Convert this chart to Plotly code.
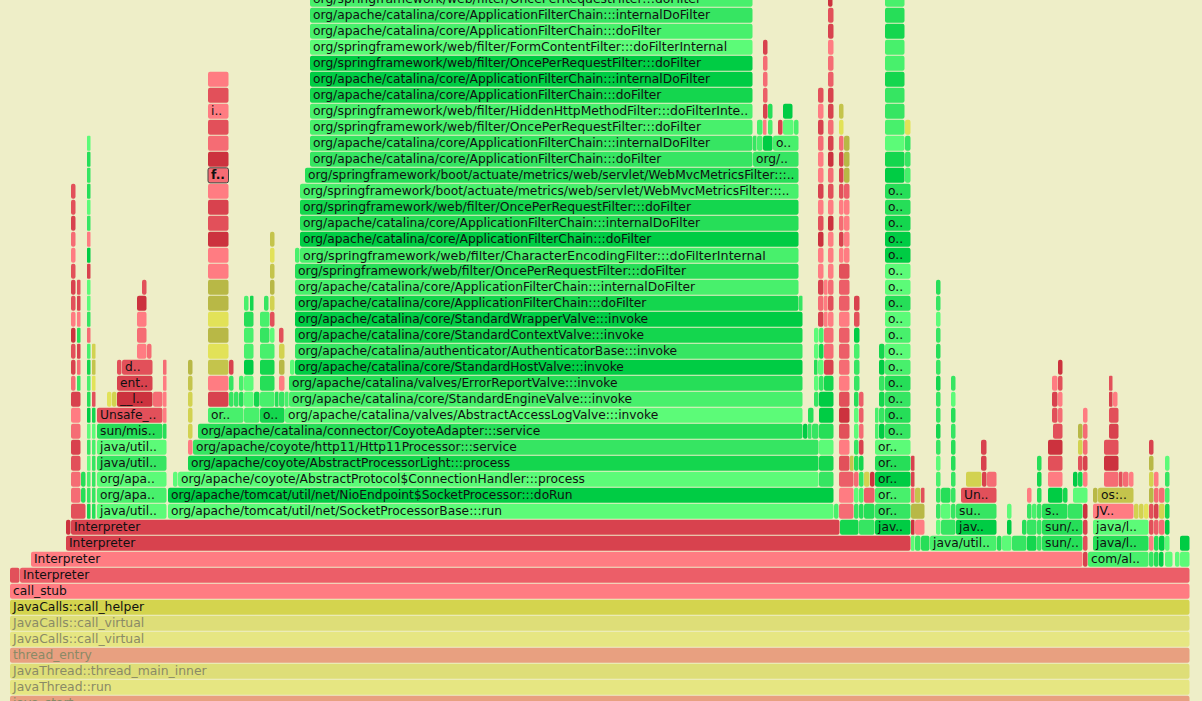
import plotly.graph_objects as go

# flame graph, one entry per stack depth, x in samples (1 sample ~ 1 px wide)
frame_start = [
    [10], [10], [10], [10], [10], [10], [10], [10],
    [10, 20],
    [31, 1083, 1088, 1149, 1154, 1159, 1165, 1175, 1180],
    [66, 911, 915, 921, 930, 997, 1002, 1012, 1027, 1037, 1042, 1083, 1093, 1149, 1154, 1159, 1165, 1180],
    [66, 71, 840, 859, 875, 911, 915, 936, 941, 956, 1007, 1022, 1027, 1037, 1042, 1083, 1093, 1149, 1154, 1159, 1165],
    [71, 87, 92, 97, 168, 834, 839, 854, 859, 864, 875, 911, 936, 941, 951, 956, 1007, 1027, 1032, 1037, 1042, 1068, 1083, 1093, 1134, 1139, 1144, 1149, 1154, 1159, 1165],
    [71, 81, 87, 92, 97, 168, 839, 854, 859, 864, 875, 911, 915, 921, 936, 941, 951, 961, 1027, 1037, 1048, 1063, 1073, 1093, 1098, 1149, 1154, 1159, 1165],
    [71, 81, 87, 92, 97, 173, 178, 819, 839, 854, 859, 864, 870, 875, 911, 936, 951, 966, 982, 987, 1037, 1048, 1073, 1078, 1083, 1104, 1119, 1123, 1129, 1149, 1154, 1165],
    [71, 87, 92, 97, 188, 819, 839, 850, 854, 859, 875, 911, 936, 951, 981, 1037, 1048, 1078, 1083, 1104, 1149, 1165],
    [71, 87, 92, 97, 188, 193, 819, 839, 854, 859, 875, 936, 951, 981, 1048, 1078, 1083, 1104, 1149],
    [71, 87, 92, 97, 163, 188, 198, 803, 808, 812, 819, 839, 854, 859, 875, 879, 885, 936, 951, 1053, 1078, 1083, 1109],
    [71, 87, 92, 97, 163, 188, 208, 244, 260, 285, 808, 819, 839, 854, 859, 875, 879, 885, 936, 951, 1052, 1058, 1083, 1109],
    [71, 87, 92, 107, 112, 117, 153, 163, 188, 208, 229, 234, 239, 244, 254, 260, 275, 279, 285, 289, 814, 819, 839, 854, 859, 879, 885, 936, 951, 1052, 1058, 1109, 1113],
    [71, 77, 87, 92, 117, 163, 188, 208, 229, 239, 244, 260, 279, 289, 814, 819, 824, 839, 854, 879, 885, 936, 951, 1052, 1058, 1109],
    [71, 77, 87, 92, 117, 122, 163, 188, 208, 229, 244, 260, 279, 290, 295, 814, 818, 824, 839, 854, 879, 885, 936, 1058],
    [71, 77, 87, 92, 137, 147, 208, 244, 260, 279, 295, 814, 819, 824, 839, 854, 879, 885, 936],
    [71, 77, 87, 137, 208, 244, 260, 270, 279, 295, 814, 819, 824, 839, 854, 885, 936],
    [71, 77, 87, 137, 208, 244, 260, 270, 295, 818, 824, 828, 839, 854, 885, 936],
    [71, 77, 87, 137, 208, 244, 250, 264, 270, 295, 799, 818, 824, 828, 839, 854, 885, 936],
    [71, 77, 87, 142, 208, 270, 295, 818, 824, 828, 839, 885, 936],
    [71, 87, 208, 270, 295, 818, 828, 839, 885],
    [71, 87, 208, 270, 295, 300, 818, 828, 839, 844, 885],
    [71, 87, 208, 270, 300, 818, 828, 839, 844, 885],
    [71, 87, 208, 300, 818, 828, 839, 844, 885],
    [71, 87, 208, 300, 818, 828, 839, 844, 885],
    [71, 87, 208, 300, 818, 828, 839, 844, 885],
    [87, 208, 305, 818, 828, 839, 844, 885, 905],
    [87, 208, 310, 753, 818, 828, 839, 844, 885, 905],
    [87, 208, 310, 753, 757, 763, 773, 818, 828, 839, 844, 885, 905],
    [208, 310, 757, 763, 768, 778, 783, 794, 818, 828, 839, 885, 905],
    [208, 310, 763, 768, 783, 818, 828, 839, 885],
    [208, 310, 763, 818, 828, 885],
    [208, 310, 763, 828, 885],
    [310, 763, 828, 885],
    [310, 763, 828, 885],
    [310, 828, 885],
    [310, 828, 885],
    [310, 828, 885],
]

frame_end = [
    [1190], [1190], [1190], [1190], [1190], [1190], [1190], [1190],
    [20, 1190],
    [1083, 1088, 1149, 1154, 1159, 1164, 1173, 1180, 1190],
    [911, 915, 921, 930, 997, 1002, 1012, 1027, 1037, 1042, 1083, 1088, 1149, 1154, 1159, 1165, 1170, 1190],
    [71, 840, 859, 875, 911, 915, 925, 941, 956, 997, 1012, 1027, 1037, 1042, 1083, 1088, 1149, 1154, 1159, 1165, 1170],
    [86, 91, 96, 167, 834, 839, 854, 859, 864, 875, 911, 925, 941, 951, 956, 997, 1012, 1032, 1037, 1042, 1068, 1083, 1088, 1134, 1139, 1144, 1149, 1154, 1159, 1165, 1170],
    [81, 86, 91, 96, 167, 834, 854, 859, 864, 875, 911, 915, 921, 925, 941, 951, 956, 997, 1032, 1042, 1063, 1068, 1088, 1098, 1134, 1154, 1159, 1165, 1170],
    [81, 86, 91, 96, 167, 178, 819, 834, 854, 859, 864, 870, 875, 911, 915, 941, 956, 982, 987, 997, 1042, 1063, 1078, 1083, 1088, 1119, 1123, 1129, 1134, 1154, 1159, 1170],
    [81, 91, 96, 167, 819, 834, 850, 854, 859, 864, 911, 915, 941, 956, 987, 1042, 1063, 1083, 1088, 1119, 1154, 1170],
    [81, 91, 96, 167, 193, 819, 834, 850, 859, 864, 911, 941, 956, 987, 1063, 1083, 1088, 1119, 1154],
    [81, 91, 96, 163, 167, 193, 803, 808, 812, 819, 834, 850, 859, 864, 879, 885, 911, 941, 956, 1063, 1083, 1088, 1119],
    [81, 91, 96, 163, 167, 193, 244, 260, 285, 803, 814, 834, 850, 859, 864, 879, 885, 911, 941, 956, 1058, 1063, 1088, 1119],
    [81, 91, 96, 112, 117, 153, 163, 167, 193, 229, 234, 239, 244, 254, 260, 275, 279, 285, 289, 803, 819, 834, 850, 859, 864, 885, 911, 941, 956, 1058, 1063, 1113, 1118],
    [76, 81, 91, 96, 153, 167, 193, 229, 234, 244, 254, 275, 285, 803, 819, 824, 834, 850, 860, 885, 911, 941, 956, 1058, 1063, 1113],
    [76, 81, 91, 96, 122, 153, 167, 193, 229, 234, 254, 275, 285, 295, 803, 818, 824, 834, 850, 860, 885, 911, 941, 1063],
    [76, 81, 91, 96, 147, 152, 229, 254, 275, 285, 803, 819, 824, 834, 850, 860, 885, 911, 941],
    [76, 81, 91, 147, 229, 254, 270, 275, 284, 803, 819, 824, 834, 850, 860, 911, 941],
    [76, 81, 91, 147, 229, 254, 270, 275, 803, 824, 828, 834, 850, 860, 911, 941],
    [76, 81, 91, 147, 229, 249, 254, 269, 275, 799, 803, 824, 828, 834, 850, 860, 911, 941],
    [76, 81, 91, 147, 229, 275, 799, 824, 828, 834, 850, 911, 941],
    [76, 91, 229, 275, 799, 824, 834, 850, 911],
    [76, 91, 229, 275, 300, 799, 824, 834, 844, 850, 911],
    [76, 91, 229, 275, 799, 824, 834, 844, 850, 911],
    [76, 91, 229, 799, 824, 834, 844, 850, 911],
    [76, 91, 229, 799, 824, 834, 844, 850, 911],
    [76, 91, 229, 799, 824, 834, 844, 850, 911],
    [91, 229, 799, 824, 834, 844, 850, 905, 911],
    [91, 229, 753, 799, 824, 834, 844, 850, 905, 911],
    [91, 229, 753, 757, 763, 773, 799, 824, 834, 844, 850, 905, 911],
    [229, 753, 763, 767, 773, 783, 794, 799, 824, 834, 844, 905, 911],
    [229, 753, 768, 773, 793, 824, 834, 844, 905],
    [229, 753, 768, 824, 834, 905],
    [229, 753, 768, 834, 905],
    [753, 768, 834, 905],
    [753, 768, 834, 905],
    [753, 834, 905],
    [753, 834, 905],
    [753, 833, 905],
]

# one letter per frame, SHADES below says what each letter is
frame_shade = [
    "A", "D", "C", "A", "D", "C", "E", "s",
    "op",
    "snedcafff",
    "nfdcecfdbdcocscafa",
    "mnbdamsfdaacddcnfopqa",
    "obcffeqdccdtdfddfdedcdmsvvwonvb",
    "qcddeasfepequodcdoscabftutqqe",
    "qcedfffdpqdvmanedvnqbsabsqoqsvsd",
    "ofddbboucbcnfcncoonmtf",
    "ndefsdfsdnfdcnmvqon",
    "qffccvcaddcofqeadbdotqn",
    "sabosveebfcamfpedcdcoqso",
    "ncowvmqsvnddcfbecdeedaocpbddfnsns",
    "qdewnsusdefcscfdbsddcbdsoo",
    "nqbuooqtunabtfacfnqdaedm",
    "onevsqweevdfbqpebfc",
    "mcqqtedfobfeqpaed",
    "ssdswceoansssoff",
    "onfmtebdvbdqsopncd",
    "nofottensqpfc",
    "onsucssof",
    "sasweessssa",
    "qsmuamsnsa",
    "ndocomqsb",
    "ofnbssssc",
    "ocsenoopc",
    "dqcsqntae",
    "cmddsmntbd",
    "fqddeaeqnqtfd",
    "oeesenfenqwew",
    "sencasnud",
    "obpond",
    "saqpb",
    "aqqe",
    "fnse",
    "enb",
    "doc",
    "eme",
]

CATALINA = "org/apache/catalina/core/"
SPRING = "org/springframework/web/filter/"
CHAIN_DO = CATALINA + "ApplicationFilterChain:::doFilter"
CHAIN_INT = CATALINA + "ApplicationFilterChain:::internalDoFilter"
ONCE = SPRING + "OncePerRequestFilter:::doFilter"
METRICS = "org/springframework/boot/actuate/metrics/web/servlet/WebMvcMetricsFilter:::.."

label_row = [
    0, 1, 2, 3, 4, 5, 6, 7, 8, 9, 9,
    10, 10, 10, 10, 11, 11, 11, 11, 11,
    12, 12, 12, 12, 12, 12, 13, 13, 13, 13, 13,
    14, 14, 14, 15, 15, 15, 16, 16, 16,
    17, 17, 17, 18, 18, 18, 18, 18, 19, 19, 19, 20, 20, 20, 21, 21, 21,
    22, 22, 23, 23, 24, 24, 25, 25, 26, 26, 27, 27, 28, 28, 29, 29, 30, 30, 31, 31, 32, 32,
    33, 33, 34, 34, 35, 35, 36, 37, 37, 38, 39, 40, 41, 42, 43, 44,
]
label_start = [
    10, 10, 10, 10, 10, 10, 10, 10, 20, 31, 1088,
    66, 930, 1042, 1093, 71, 875, 956, 1042, 1093,
    97, 168, 875, 956, 1042, 1093, 97, 168, 875, 961, 1098,
    97, 178, 875, 97, 188, 875, 97, 193, 875,
    97, 198, 885, 97, 208, 260, 285, 885, 117, 289, 885, 117, 289, 885, 122, 295, 885,
    295, 885, 295, 885, 295, 885, 295, 885, 295, 885, 295, 885, 300, 885, 300, 885, 300, 885, 300, 885, 300, 885,
    208, 305, 310, 753, 310, 773, 310, 208, 310, 310, 310, 310, 310, 310, 310, 310,
]
label_text = [
    "java_start", "JavaThread::run", "JavaThread::thread_main_inner", "thread_entry",
    "JavaCalls::call_virtual", "JavaCalls::call_virtual", "JavaCalls::call_helper", "call_stub",
    "Interpreter", "Interpreter", "com/al..",
    "Interpreter", "java/util..", "sun/..", "java/l..",
    "Interpreter", "jav..", "jav..", "sun/..", "java/l..",
    "java/util..", "org/apache/tomcat/util/net/SocketProcessorBase:::run", "or..", "su..", "s..", "JV..",
    "org/apa..", "org/apache/tomcat/util/net/NioEndpoint$SocketProcessor:::doRun", "or..", "Un..", "os:..",
    "org/apa..", "org/apache/coyote/AbstractProtocol$ConnectionHandler:::process", "or..",
    "java/util..", "org/apache/coyote/AbstractProcessorLight:::process", "or..",
    "java/util..", "org/apache/coyote/http11/Http11Processor:::service", "or..",
    "sun/mis..", "org/apache/catalina/connector/CoyoteAdapter:::service", "o..",
    "Unsafe_..", "or..", "o..", "org/apache/catalina/valves/AbstractAccessLogValve:::invoke", "o..",
    "__l..", CATALINA + "StandardEngineValve:::invoke", "o..",
    "ent..", "org/apache/catalina/valves/ErrorReportValve:::invoke", "o..",
    "d..", CATALINA + "StandardHostValve:::invoke", "o..",
    "org/apache/catalina/authenticator/AuthenticatorBase:::invoke", "o..",
    CATALINA + "StandardContextValve:::invoke", "o..",
    CATALINA + "StandardWrapperValve:::invoke", "o..",
    CHAIN_DO, "o..", CHAIN_INT, "o..", ONCE, "o..",
    SPRING + "CharacterEncodingFilter:::doFilterInternal", "o..",
    CHAIN_DO, "o..", CHAIN_INT, "o..", ONCE, "o..", METRICS, "o..",
    "<b>f..</b>", METRICS,
    CHAIN_DO, "org/..", CHAIN_INT, "o..", ONCE,
    "i..", SPRING + "HiddenHttpMethodFilter:::doFilterInte..",
    CHAIN_DO, CHAIN_INT, ONCE, SPRING + "FormContentFilter:::doFilterInternal",
    CHAIN_DO, CHAIN_INT, ONCE,
]

selected_frame = (33, 208)

SHADES = {
    "a": "#00cc44", "b": "#14d64e", "c": "#26de58", "d": "#36e562", "e": "#48f06c", "f": "#5cfb78",
    "m": "#cc323e", "n": "#d8424e", "o": "#e2505a", "p": "#ec5e68", "q": "#f56c74", "s": "#ff7c82",
    "t": "#b8b846", "u": "#c4c44c", "v": "#d2d250", "w": "#e2e258",
    "A": "#e8a080", "C": "#dede78", "D": "#e6e682", "E": "#d4d44e",
}
BACKGROUND = "#eeeec8"
ROW_GAP = 15 / 16
TEXT_PAD = 3
TEXT_DROP = 1 / 16


# the reference text runs a little wider on some names, hinting probably
def label_size(text):
    if "CharacterEncoding" in text:
        return 12.7
    if text.startswith(SPRING) or text.startswith("Java"):
        return 12.4
    return 12.25


levels, bases, widths, colors, line_widths = [], [], [], [], []
for level, (starts, ends, shades) in enumerate(zip(frame_start, frame_end, frame_shade, strict=True)):
    for start, end, shade in zip(starts, ends, shades, strict=True):
        levels.append(level)
        bases.append(start)
        widths.append(end - start - 0.5)
        colors.append(SHADES[shade])
        line_widths.append(1 if (level, start) == selected_frame else 0)

fig = go.Figure()
fig.add_trace(go.Bar(
    y=levels, x=widths, base=bases, orientation="h", width=ROW_GAP,
    marker=dict(color=colors, line=dict(color="#444444", width=line_widths)),
    hoverinfo="skip", showlegend=False,
))
fig.add_trace(go.Scatter(
    x=[s + TEXT_PAD for s in label_start], y=[r - TEXT_DROP for r in label_row], text=label_text,
    mode="text", textposition="middle right",
    textfont=dict(family="DejaVu Sans", size=[label_size(t) for t in label_text],
                  color=["#8a8a66" if r <= 5 else "#111111" for r in label_row]),
    hoverinfo="skip", showlegend=False,
))

fig.update_layout(
    width=1202, height=701, margin=dict(l=0, r=0, t=0, b=0),
    paper_bgcolor=BACKGROUND, plot_bgcolor=BACKGROUND,
    barmode="overlay", barcornerradius=2, showlegend=False,
    xaxis=dict(range=[0, 1202], visible=False, fixedrange=True),
    yaxis=dict(range=[0.144, 43.959], visible=False, fixedrange=True),
)

fig.write_html("out.html", config=dict(displayModeBar=False),
               post_script="document.body.style.margin='0';")
